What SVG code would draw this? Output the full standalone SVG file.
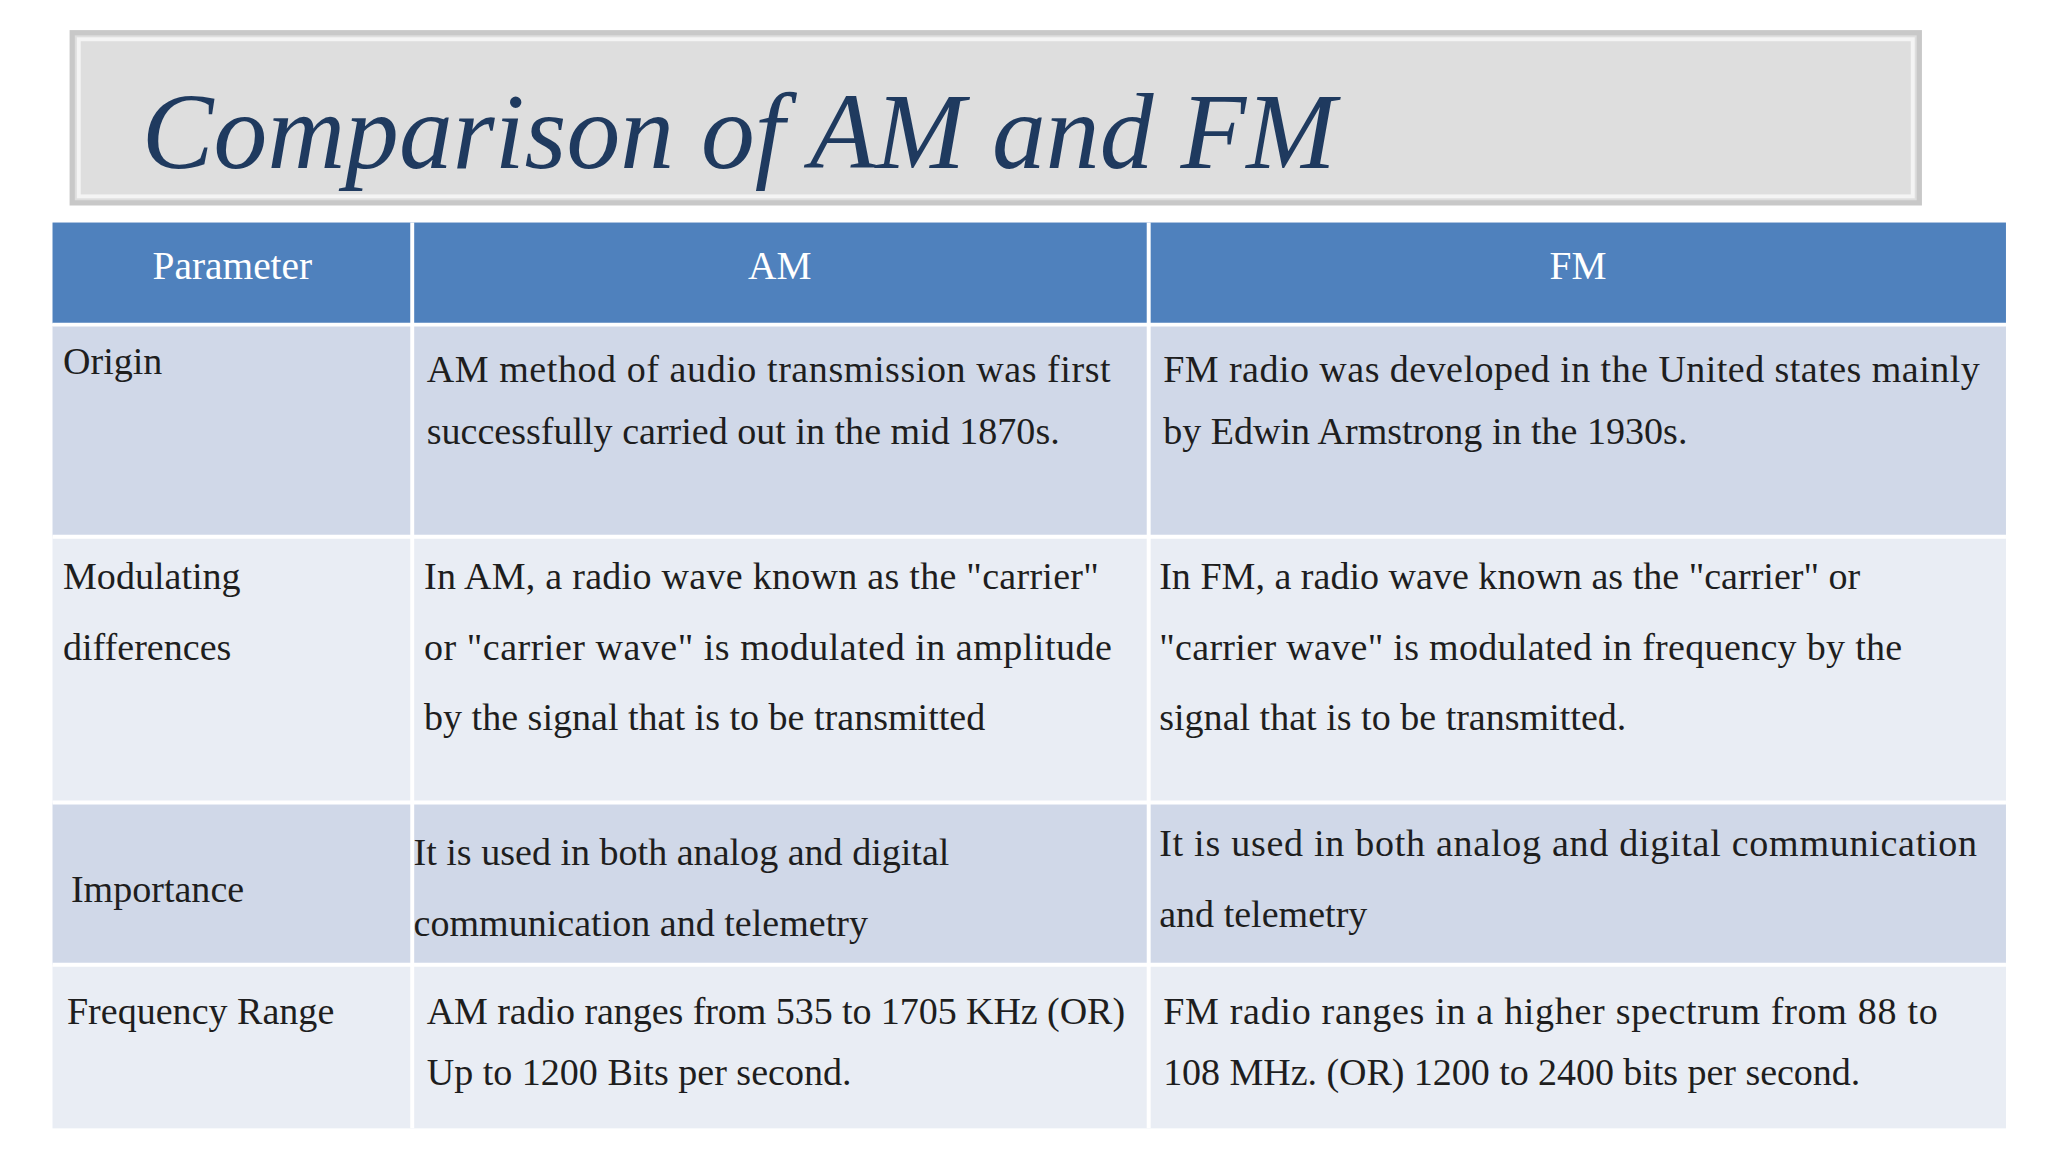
<svg xmlns="http://www.w3.org/2000/svg" width="2048" height="1152" viewBox="0 0 2048 1152">
<style>
.t{font-family:"Liberation Serif",serif;font-size:29px;fill:#1e1e1e}
.h{font-family:"Liberation Serif",serif;font-size:30px;fill:#fff;text-anchor:middle}
.d{fill:#d0d8e8}.l{fill:#e9edf4}
.g{stroke:#fff;stroke-width:3}
</style>
<rect width="2048" height="1152" fill="#fff"/>
<g transform="scale(1.3128,1.309)">
<g id="title">
<rect x="55" y="25" width="1407" height="130" fill="#dedede" stroke="#c8c8c8" stroke-width="4"/>
<rect x="60" y="30" width="1397" height="120" fill="none" stroke="#f4f4f4" stroke-width="3"/>
<text x="108" y="128" font-family="Liberation Serif,serif" font-style="italic" font-size="82" fill="#1f3a5f">Comparison of AM and FM</text>
</g>
<g id="table">
<rect x="40" y="170" width="1488" height="77" fill="#4f81bd"/>
<rect class="d" x="40" y="249" width="1488" height="161"/>
<rect class="l" x="40" y="410" width="1488" height="203"/>
<rect class="d" x="40" y="613" width="1488" height="124"/>
<rect class="l" x="40" y="737" width="1488" height="125"/>
<g class="g"><line x1="314" y1="170" x2="314" y2="862"/><line x1="875" y1="170" x2="875" y2="862"/><line x1="40" y1="248" x2="1528" y2="248"/><line x1="40" y1="410" x2="1528" y2="410"/><line x1="40" y1="613" x2="1528" y2="613"/><line x1="40" y1="737" x2="1528" y2="737"/></g>
</g>
<g id="header">
<text class="h" x="177" y="213">Parameter</text>
<text class="h" x="594" y="213">AM</text>
<text class="h" x="1202" y="213">FM</text>
</g>
<g id="row-origin">
<text class="t" x="48" y="286">Origin</text>
<text class="t" x="325" y="292" textLength="521">AM method of audio transmission was first</text>
<text class="t" x="325" y="339">successfully carried out in the mid 1870s.</text>
<text class="t" x="886" y="292" textLength="622">FM radio was developed in the United states mainly</text>
<text class="t" x="886" y="339">by Edwin Armstrong in the 1930s.</text>
</g>
<g id="row-modulating">
<text class="t" x="48" y="450">Modulating</text>
<text class="t" x="48" y="504">differences</text>
<text class="t" x="323" y="450" textLength="514">In AM, a radio wave known as the "carrier"</text>
<text class="t" x="323" y="504" textLength="524">or "carrier wave" is modulated in amplitude</text>
<text class="t" x="323" y="558">by the signal that is to be transmitted</text>
<text class="t" x="883" y="450">In FM, a radio wave known as the "carrier" or</text>
<text class="t" x="883" y="504" textLength="566">"carrier wave" is modulated in frequency by the</text>
<text class="t" x="883" y="558">signal that is to be transmitted.</text>
</g>
<g id="row-importance">
<text class="t" x="54" y="689">Importance</text>
<text class="t" x="315" y="661">It is used in both analog and digital</text>
<text class="t" x="315" y="715">communication and telemetry</text>
<text class="t" x="883" y="654" textLength="623">It is used in both analog and digital communication</text>
<text class="t" x="883" y="708">and telemetry</text>
</g>
<g id="row-frequency">
<text class="t" x="51" y="782">Frequency Range</text>
<text class="t" x="325" y="782" textLength="532">AM radio ranges from 535 to 1705 KHz (OR)</text>
<text class="t" x="325" y="829">Up to 1200 Bits per second.</text>
<text class="t" x="886" y="782" textLength="590">FM radio ranges in a higher spectrum from 88 to</text>
<text class="t" x="886" y="829" textLength="531">108 MHz. (OR) 1200 to 2400 bits per second.</text>
</g>
</g>
</svg>
